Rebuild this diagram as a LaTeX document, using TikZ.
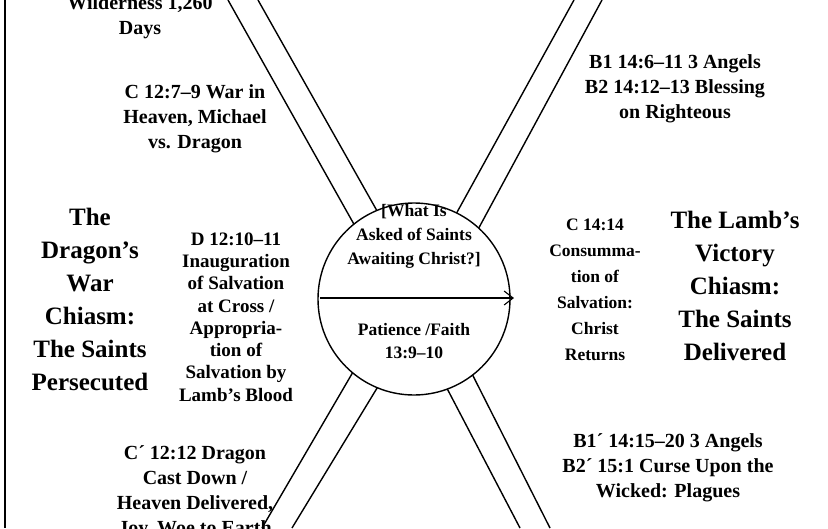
\documentclass[tikz,border=0pt]{standalone}
\usepackage{fontspec}
\setmainfont{Liberation Serif}
\usetikzlibrary{arrows.meta}
\begin{document}
\begin{tikzpicture}[x=1pt,y=-1pt,
    txt/.style={align=center,font=\bfseries\fontsize{20}{25}\selectfont,inner sep=0pt},
    ttl/.style={align=center,font=\bfseries\fontsize{25}{33}\selectfont,inner sep=0pt},
    band/.style={line width=1.4pt}]
  \useasboundingbox (0,0) rectangle (828,528);
  \clip (0,0) rectangle (828,528);
  % frame edge
  \draw[line width=1.4pt] (5,0) -- (5,528);
  % the X bands
  \draw[band] (228,0) -- (360,235);
  \draw[band] (258,0) -- (385,225);
  \draw[band] (574,0) -- (450,225);
  \draw[band] (602,0) -- (475,235);
  \draw[band] (262,528) -- (360,360);
  \draw[band] (292,528) -- (385,375);
  \draw[band] (520,528) -- (440,375);
  \draw[band] (550,528) -- (465,360);
  % centre circle
  \node[circle,draw,line width=1.4pt,fill=white,minimum size=192pt,inner sep=0pt] (hub) at (414,299) {};
  \coordinate (arrL) at (320,298);
  \coordinate (arrR) at (514,298);
  \draw[-{Straight Barb[length=9pt,width=14pt]},line width=1.1pt] (arrL) -- (arrR);
  \node[txt,font=\bfseries\fontsize{17.5}{24}\selectfont] (ask) at (414,236) {[What Is\\Asked of Saints\\Awaiting Christ?]};
  \node[txt,font=\bfseries\fontsize{17.5}{23}\selectfont] (faith) at (414,341) {Patience /Faith\\13:9--10};
  % left side
  \node[txt] (wild) at (140,17) {Wilderness 1,260\\Days};
  \node[txt] (war) at (195,119) {C 12:7--9 War in\\Heaven, Michael\\vs. Dragon};
  \node[ttl] (dragon) at (90,299) {The\\Dragon's\\War\\Chiasm:\\The Saints\\Persecuted};
  \node[txt,font=\bfseries\fontsize{19}{22.3}\selectfont] (cross) at (236,317) {D 12:10--11\\Inauguration\\of Salvation\\at Cross /\\Appropria-\\tion of\\Salvation by\\Lamb's Blood};
  \node[txt,anchor=north] (cast) at (195,445) {C\textasciiacute\ 12:12 Dragon\\Cast Down /\\Heaven Delivered,\\Joy, Woe to Earth};
  % right side
  \node[txt] (angels) at (675,89) {B1 14:6--11 3 Angels\\B2 14:12--13 Blessing\\on Righteous};
  \node[txt,font=\bfseries\fontsize{17.5}{26}\selectfont] (returns) at (595,290) {C 14:14\\Consumma-\\tion of\\Salvation:\\Christ\\Returns};
  \node[ttl] (lamb) at (735,286) {The Lamb's\\Victory\\Chiasm:\\The Saints\\Delivered};
  \node[txt] (curse) at (668,468) {B1\textasciiacute\ 14:15--20 3 Angels\\B2\textasciiacute\ 15:1 Curse Upon the\\Wicked: Plagues};
\end{tikzpicture}
\end{document}
